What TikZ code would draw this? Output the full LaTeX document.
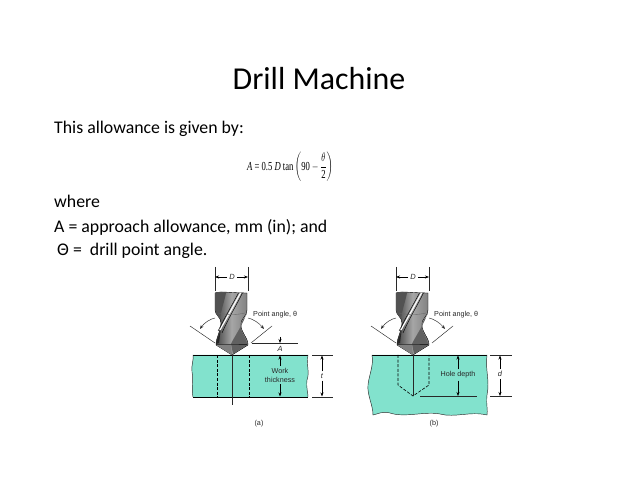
\documentclass[tikz,border=0pt]{standalone}
\usepackage{fontspec}
\usepackage{amsmath}
\usepackage{graphicx}
\setmainfont{Carlito}
\newfontfamily\labelfont{Liberation Sans}
\newfontfamily\formulafont{Liberation Serif}
\usetikzlibrary{arrows.meta,calc}
\definecolor{workteal}{RGB}{130,226,205}
\definecolor{inkgray}{RGB}{40,40,40}
\tikzset{
  slidetext/.style={anchor=base west,inner sep=0,text=black,font=\fontsize{17.8}{21}\selectfont},
  titletext/.style={anchor=center,inner sep=0,text=black,font=\fontsize{31.9}{36}\selectfont},
  figlabel/.style={inner sep=0,text=inkgray,align=center,font=\labelfont\fontsize{7.2}{8.5}\selectfont},
  smalllabel/.style={inner sep=0,text=inkgray,font=\labelfont\itshape\fontsize{7.5}{9}\selectfont},
  workbody/.style={fill=workteal,draw=none},
  workedge/.style={draw=black,line width=0.8pt},
  thinline/.style={draw=inkgray,line width=0.45pt},
  dimline/.style={draw=black,line width=0.55pt,shorten <=2pt,-{Stealth[length=4pt,width=3pt]}},
  arcline/.style={draw=inkgray,line width=0.45pt,-{Stealth[length=4pt,width=3pt]}},
  dashline/.style={draw=black,line width=0.6pt,dash pattern=on 3pt off 1.6pt},
}
\newcommand{\drillfig}[1]{%
  \begin{scope}[shift={(#1,355)}]
    % body
    \path[left color=black!75,right color=black!50,middle color=black!35,draw=black,line width=0.4pt]
      (-17,-62) .. controls (-10,-64) and (0,-62) .. (15,-62)
      -- (15,-45) .. controls (15,-38) and (9,-38) .. (9,-30)
      .. controls (9,-22) and (16,-18) .. (16,-10)
      -- (0,0) -- (-16,-10)
      .. controls (-16,-18) and (-11,-24) .. (-11,-32)
      .. controls (-11,-38) and (-17,-40) .. (-17,-45) -- cycle;
    % dark flutes
    \fill[black!68] (-17,-62) .. controls (-12,-64) and (-8,-63) .. (-6,-62)
      .. controls (-8,-52) and (-11,-45) .. (-12,-36) .. controls (-15,-40) and (-17,-42) .. (-17,-45) -- cycle;
    \fill[black!62] (15,-43) .. controls (11,-30) and (2,-18) .. (-1,-11)
      -- (1,-1) -- (15,-10) .. controls (15,-18) and (8,-22) .. (9,-30) .. controls (9,-36) and (15,-38) .. (15,-43) -- cycle;
    \fill[black!85] (-16,-11) .. controls (-14,-18) and (-12,-22) .. (-11,-28) -- (-13,-12) -- cycle;
    \fill[black!50] (-16,-10) -- (0,0) -- (-1,-11) -- cycle;
    % white margin of the flute
    \draw[white,line width=1.2pt] (8.5,-62) .. controls (2,-50) and (-6,-36) .. (-12,-25);
    \draw[black,line width=0.45pt] (6.5,-62) .. controls (0,-50) and (-8,-36) .. (-14,-24);
    \draw[black,line width=0.45pt] (10.5,-62) .. controls (4.5,-50) and (-4,-36) .. (-10,-22);
    % cross marks on the body
    \draw[black!60,line width=0.35pt] (-14,-42) .. controls (-5,-40) and (5,-40) .. (13,-42);
    \draw[black!85,line width=0.5pt] (-16,-11) -- (-1,-11) -- (15,-11);
    % point angle
    \coordinate (la#1) at (-42,-29);
    \coordinate (lb#1) at (-17,-12);
    \coordinate (ra#1) at (40,-29);
    \coordinate (rb#1) at (19,-12);
    \draw[thinline] (la#1) -- (lb#1);
    \draw[thinline] (ra#1) -- (rb#1);
    \coordinate (aa#1) at (-17,-37);
    \coordinate (ab#1) at (-32,-26);
    \coordinate (ac#1) at (16,-37);
    \coordinate (ad#1) at (32,-26);
    \draw[arcline] (aa#1) .. controls (-22,-36) and (-28,-32) .. (ab#1);
    \draw[arcline] (ac#1) .. controls (21,-36) and (27,-32) .. (ad#1);
    % diameter
    \coordinate (dl#1) at (-17,-88);
    \coordinate (dlb#1) at (-17,-64);
    \coordinate (dr#1) at (16,-88);
    \coordinate (drb#1) at (16,-64);
    \draw[thinline] (dl#1) -- (dlb#1);
    \draw[thinline] (dr#1) -- (drb#1);
    \node[smalllabel] (dn#1) at (0,-78) {D};
    \coordinate (dal#1) at (-17,-78);
    \coordinate (dar#1) at (16,-78);
    \draw[dimline] (dn#1) -- (dal#1);
    \draw[dimline] (dn#1) -- (dar#1);
    \node[figlabel,anchor=west] (pa#1) at (21,-40) {Point angle, θ};
  \end{scope}}
\begin{document}
\begin{tikzpicture}[x=1pt,y=-1pt]
\useasboundingbox (0,0) rectangle (638,478);
\fill[white] (0,0) rectangle (638,478);
\node[titletext] (title) at (319,79) {Drill Machine};
\node[slidetext] (intro) at (54,134) {This allowance is given by:};
\node[inner sep=0,anchor=center,font=\fontsize{12}{14}\selectfont] (formula) at (290,167)
  {\scalebox{0.72}[1.02]{\formulafont\itshape A\upshape\ = 0.5 \itshape D\upshape\ tan\,$\left(\text{\formulafont 90}-\dfrac{\theta}{\text{\formulafont 2}}\right)$}};
\node[slidetext] (where) at (54,208) {where};
\node[slidetext] (adef) at (54,233) {A = approach allowance, mm (in); and};
\node[slidetext] (tdef) at (57,256) {Θ =\ \ drill point angle.};

% ---------- figure (a)
\path[workbody] (193,355) -- (308,355)
  .. controls (306,365) and (310,372) .. (307,380) .. controls (306,388) and (308,392) .. (308,397)
  -- (193,397) .. controls (191,388) and (194,380) .. (192,372) .. controls (191,365) and (194,360) .. (193,355) -- cycle;
\draw[workedge] (193,355) -- (308,355);
\draw[workedge] (193,397) -- (308,397);
\draw[thinline] (193,355) .. controls (194,360) and (191,365) .. (192,372) .. controls (194,380) and (191,388) .. (193,397);
\draw[thinline] (308,355) .. controls (306,365) and (310,372) .. (307,380) .. controls (306,388) and (308,392) .. (308,397);
\coordinate (ha1) at (217,355); \coordinate (ha2) at (217,397);
\coordinate (ha3) at (249,355); \coordinate (ha4) at (249,397);
\draw[dashline] (ha1) -- (ha2);
\draw[dashline] (ha3) -- (ha4);
\coordinate (ca1) at (232,355); \coordinate (ca2) at (232,405);
\draw[thinline,line width=0.6pt] (ca1) -- (ca2);
\drillfig{232}
\coordinate (as1) at (252,343); \coordinate (as2) at (298,343);
\draw[thinline] (as1) -- (as2);
\coordinate (aup) at (280,335); \coordinate (aupe) at (280,343);
\draw[dimline] (aup) -- (aupe);
\node[smalllabel] (alabel) at (280,349) {A};
\node[figlabel] (worklabel) at (280,375) {Work\\[0.4pt]thickness};
\coordinate (wt) at (280,355.5); \coordinate (wb) at (280,396.5);
\draw[dimline] (worklabel.north) -- (wt);
\draw[dimline] (worklabel.south) -- (wb);
\coordinate (ts1) at (312,355); \coordinate (ts2) at (333,355);
\coordinate (ts3) at (312,397); \coordinate (ts4) at (333,397);
\draw[thinline] (ts1) -- (ts2);
\draw[thinline] (ts3) -- (ts4);
\node[smalllabel] (tlabel) at (322,376) {t};
\coordinate (tt) at (322,355.5); \coordinate (tb) at (322,396.5);
\draw[dimline] (tlabel) -- (tt);
\draw[dimline] (tlabel) -- (tb);
\node[figlabel] (capa) at (259,424) {(a)};

% ---------- figure (b)
\path[workbody] (372,355) -- (487,355)
  .. controls (485,370) and (490,380) .. (487,395) .. controls (486,405) and (488,410) .. (487,415)
  .. controls (470,411) and (455,418) .. (440,414) .. controls (425,411) and (405,418) .. (390,413) .. controls (382,411) and (378,414) .. (373,415)
  .. controls (373,405) and (367,395) .. (368,385) .. controls (369,375) and (374,365) .. (372,355) -- cycle;
\draw[workedge] (372,355) -- (487,355);
\draw[thinline] (372,355) .. controls (374,365) and (369,375) .. (368,385) .. controls (367,395) and (373,405) .. (373,415)
  .. controls (378,414) and (382,411) .. (390,413) .. controls (405,418) and (425,411) .. (440,414) .. controls (455,418) and (470,411) .. (487,415)
  .. controls (488,410) and (486,405) .. (487,395) .. controls (490,380) and (485,370) .. (487,355);
\coordinate (hb1) at (398,355); \coordinate (hb2) at (398,385); \coordinate (hb3) at (413,396);
\coordinate (hb4) at (429,385); \coordinate (hb5) at (429,355);
\draw[dashline] (hb1) -- (hb2) -- (hb3) -- (hb4) -- (hb5);
\coordinate (cb1) at (413,355); \coordinate (cb2) at (413,396);
\draw[thinline,line width=0.6pt] (cb1) -- (cb2);
\drillfig{413}
\coordinate (dp1) at (420,396.5); \coordinate (dp2) at (477,396.5);
\draw[thinline] (dp1) -- (dp2);
\node[figlabel] (holelabel) at (458,375) {Hole depth};
\coordinate (hdt) at (458,355.5); \coordinate (hdb) at (458,396);
\draw[dimline] (holelabel.north) -- (hdt);
\draw[dimline] (holelabel.south) -- (hdb);
\coordinate (ds1) at (490,355); \coordinate (ds2) at (512,355);
\coordinate (ds3) at (490,396.5); \coordinate (ds4) at (512,396.5);
\draw[thinline] (ds1) -- (ds2);
\draw[thinline] (ds3) -- (ds4);
\node[smalllabel] (dlabel) at (500,374) {d};
\coordinate (dt) at (500,355.5); \coordinate (db) at (500,396);
\draw[dimline] (dlabel) -- (dt);
\draw[dimline] (dlabel) -- (db);
\node[figlabel] (capb) at (434,424) {(b)};
\end{tikzpicture}
\end{document}
